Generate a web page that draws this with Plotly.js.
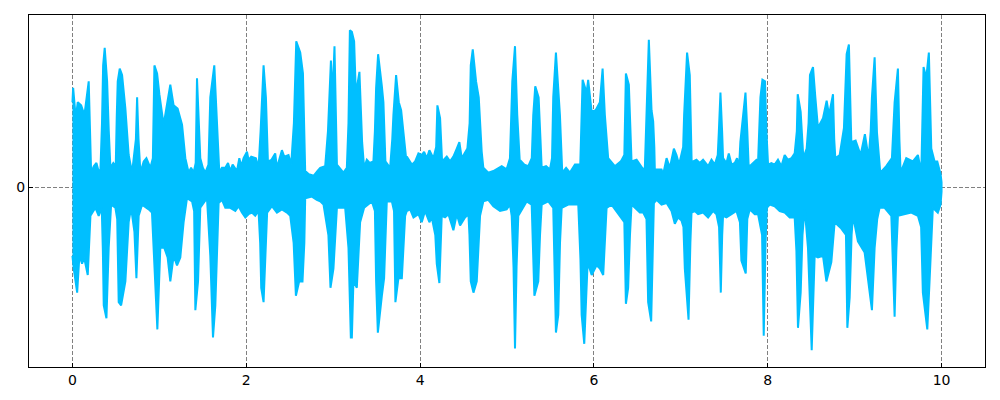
<!DOCTYPE html>
<html>
<head>
<meta charset="utf-8">
<script src="https://cdn.plot.ly/plotly-3.0.1.min.js"></script>
<style>html,body{margin:0;padding:0;background:#fff;}#chart{width:1000px;height:400px;}</style>
</head>
<body>
<div id="chart"></div>
<script>
// Upper envelope of the waveform: [time (s), amplitude]
const upperEnvelope = [
[0.000,0.53],[0.008,0.62],[0.038,0.43],[0.061,0.53],[0.100,0.51],[0.138,0.45],[0.187,0.66],[0.200,0.40],[0.215,0.09],[0.245,0.13],
[0.276,0.15],[0.300,0.10],[0.322,0.11],[0.340,0.40],[0.353,0.76],[0.371,0.87],[0.399,0.66],[0.418,0.35],[0.437,0.12],[0.470,0.15],
[0.498,0.13],[0.510,0.45],[0.521,0.66],[0.544,0.74],[0.571,0.70],[0.609,0.49],[0.647,0.20],[0.686,0.09],[0.730,0.30],[0.744,0.56],
[0.760,0.30],[0.782,0.09],[0.820,0.16],[0.851,0.18],[0.897,0.12],[0.925,0.18],[0.943,0.76],[0.974,0.71],[1.000,0.58],[1.049,0.39],
[1.126,0.64],[1.164,0.51],[1.210,0.49],[1.261,0.39],[1.299,0.18],[1.337,0.09],[1.365,0.12],[1.394,0.09],[1.418,0.15],[1.433,0.68],
[1.455,0.40],[1.471,0.18],[1.500,0.12],[1.529,0.09],[1.565,0.14],[1.586,0.56],[1.632,0.76],[1.663,0.34],[1.690,0.09],[1.720,0.12],
[1.759,0.12],[1.790,0.15],[1.816,0.10],[1.843,0.14],[1.893,0.10],[1.920,0.18],[1.943,0.13],[1.969,0.18],[2.008,0.22],[2.026,0.17],
[2.057,0.19],[2.111,0.18],[2.141,0.12],[2.165,0.35],[2.199,0.76],[2.226,0.56],[2.238,0.40],[2.249,0.16],[2.290,0.17],[2.333,0.21],
[2.353,0.12],[2.410,0.23],[2.437,0.19],[2.486,0.20],[2.517,0.14],[2.548,0.40],[2.575,0.91],[2.621,0.84],[2.652,0.71],[2.666,0.40],
[2.678,0.10],[2.720,0.08],[2.774,0.07],[2.820,0.10],[2.851,0.12],[2.908,0.13],[2.940,0.35],[2.974,0.79],[2.992,0.56],[3.015,0.88],
[3.030,0.40],[3.043,0.14],[3.118,0.09],[3.157,0.12],[3.176,0.40],[3.192,0.98],[3.215,0.97],[3.241,0.91],[3.261,0.58],[3.302,0.72],
[3.333,0.28],[3.356,0.12],[3.387,0.17],[3.420,0.15],[3.463,0.16],[3.480,0.35],[3.494,0.62],[3.517,0.83],[3.560,0.63],[3.578,0.53],
[3.601,0.16],[3.655,0.12],[3.680,0.30],[3.693,0.45],[3.724,0.70],[3.755,0.53],[3.782,0.48],[3.816,0.28],[3.839,0.18],[3.847,0.19],
[3.905,0.14],[3.943,0.16],[3.981,0.21],[4.019,0.20],[4.046,0.22],[4.077,0.18],[4.107,0.23],[4.153,0.18],[4.185,0.25],[4.199,0.51],
[4.230,0.43],[4.253,0.16],[4.307,0.19],[4.345,0.16],[4.383,0.19],[4.422,0.24],[4.452,0.28],[4.479,0.18],[4.517,0.22],[4.544,0.24],
[4.570,0.40],[4.583,0.76],[4.606,0.86],[4.644,0.66],[4.675,0.56],[4.695,0.30],[4.709,0.22],[4.728,0.12],[4.785,0.09],[4.843,0.10],
[4.900,0.12],[4.939,0.13],[4.996,0.11],[5.034,0.18],[5.061,0.66],[5.092,0.88],[5.118,0.45],[5.146,0.17],[5.200,0.14],[5.245,0.13],
[5.285,0.18],[5.302,0.45],[5.325,0.63],[5.364,0.56],[5.385,0.30],[5.399,0.12],[5.450,0.13],[5.494,0.11],[5.518,0.18],[5.532,0.56],
[5.563,0.84],[5.609,0.45],[5.636,0.09],[5.680,0.12],[5.724,0.09],[5.782,0.14],[5.843,0.14],[5.860,0.40],[5.870,0.67],[5.916,0.59],
[5.934,0.67],[5.974,0.47],[6.020,0.48],[6.069,0.53],[6.100,0.74],[6.126,0.45],[6.164,0.18],[6.241,0.13],[6.310,0.16],[6.350,0.20],
[6.368,0.71],[6.402,0.64],[6.420,0.35],[6.433,0.16],[6.491,0.17],[6.567,0.11],[6.586,0.12],[6.613,0.66],[6.632,0.92],[6.663,0.48],
[6.682,0.41],[6.695,0.25],[6.701,0.11],[6.778,0.11],[6.797,0.08],[6.836,0.18],[6.874,0.12],[6.920,0.24],[6.950,0.20],[6.980,0.14],
[7.008,0.21],[7.027,0.25],[7.038,0.45],[7.072,0.84],[7.103,0.70],[7.115,0.35],[7.126,0.12],[7.141,0.16],[7.180,0.17],[7.218,0.15],
[7.256,0.17],[7.314,0.13],[7.353,0.17],[7.391,0.14],[7.425,0.20],[7.437,0.34],[7.456,0.59],[7.475,0.35],[7.486,0.18],[7.525,0.15],
[7.552,0.21],[7.583,0.14],[7.621,0.15],[7.647,0.18],[7.670,0.12],[7.685,0.28],[7.744,0.59],[7.765,0.35],[7.780,0.14],[7.793,0.13],
[7.831,0.15],[7.870,0.17],[7.889,0.16],[7.905,0.40],[7.916,0.56],[7.939,0.67],[7.969,0.66],[7.985,0.35],[8.004,0.14],[8.042,0.15],
[8.080,0.14],[8.118,0.17],[8.157,0.13],[8.195,0.20],[8.233,0.17],[8.272,0.18],[8.310,0.21],[8.335,0.35],[8.345,0.58],[8.379,0.47],
[8.410,0.18],[8.448,0.24],[8.470,0.40],[8.486,0.70],[8.521,0.75],[8.548,0.56],[8.578,0.37],[8.636,0.43],[8.678,0.54],[8.705,0.45],
[8.751,0.58],[8.765,0.30],[8.778,0.18],[8.828,0.20],[8.877,0.37],[8.908,0.83],[8.934,0.89],[8.962,0.28],[9.011,0.29],[9.069,0.20],
[9.118,0.33],[9.161,0.18],[9.185,0.35],[9.199,0.56],[9.230,0.81],[9.257,0.34],[9.295,0.09],[9.364,0.13],[9.429,0.18],[9.460,0.53],
[9.498,0.74],[9.515,0.30],[9.529,0.09],[9.594,0.18],[9.670,0.16],[9.728,0.20],[9.767,0.09],[9.793,0.75],[9.824,0.68],[9.854,0.84],
[9.870,0.40],[9.882,0.24],[9.920,0.16],[9.951,0.16],[9.989,0.08],[10.000,0.03]
];

// Lower envelope of the waveform: [time (s), amplitude]
const lowerEnvelope = [
[0.000,-0.43],[0.015,-0.51],[0.054,-0.66],[0.080,-0.43],[0.111,-0.48],[0.134,-0.44],[0.176,-0.55],[0.195,-0.35],[0.207,-0.18],[0.264,-0.13],
[0.302,-0.18],[0.337,-0.13],[0.350,-0.40],[0.360,-0.74],[0.391,-0.82],[0.417,-0.38],[0.445,-0.11],[0.494,-0.13],[0.515,-0.20],[0.532,-0.72],
[0.560,-0.74],[0.609,-0.59],[0.647,-0.22],[0.675,-0.13],[0.713,-0.28],[0.736,-0.57],[0.762,-0.18],[0.801,-0.11],[0.877,-0.14],[0.915,-0.16],
[0.934,-0.38],[0.977,-0.89],[1.011,-0.38],[1.057,-0.38],[1.095,-0.44],[1.126,-0.59],[1.164,-0.43],[1.203,-0.49],[1.241,-0.44],[1.279,-0.22],
[1.318,-0.07],[1.376,-0.09],[1.400,-0.15],[1.414,-0.77],[1.445,-0.59],[1.471,-0.13],[1.548,-0.07],[1.586,-0.43],[1.617,-0.94],[1.644,-0.74],
[1.682,-0.10],[1.720,-0.08],[1.759,-0.13],[1.816,-0.13],[1.874,-0.15],[1.912,-0.12],[1.950,-0.16],[1.989,-0.19],[2.026,-0.17],[2.065,-0.16],
[2.103,-0.18],[2.141,-0.15],[2.160,-0.35],[2.172,-0.63],[2.199,-0.72],[2.225,-0.40],[2.240,-0.16],[2.295,-0.12],[2.353,-0.16],[2.410,-0.14],
[2.468,-0.16],[2.506,-0.18],[2.545,-0.35],[2.571,-0.68],[2.609,-0.59],[2.647,-0.59],[2.668,-0.35],[2.678,-0.07],[2.755,-0.06],[2.812,-0.08],
[2.851,-0.09],[2.889,-0.11],[2.945,-0.30],[2.969,-0.63],[3.003,-0.51],[3.043,-0.13],[3.138,-0.13],[3.176,-0.38],[3.203,-0.94],[3.215,-0.94],
[3.233,-0.59],[3.272,-0.63],[3.310,-0.22],[3.356,-0.13],[3.445,-0.09],[3.480,-0.15],[3.494,-0.59],[3.514,-0.91],[3.560,-0.68],[3.586,-0.57],
[3.617,-0.09],[3.675,-0.09],[3.700,-0.15],[3.716,-0.72],[3.751,-0.57],[3.790,-0.57],[3.828,-0.18],[3.847,-0.15],[3.885,-0.14],[3.924,-0.19],
[3.981,-0.17],[4.019,-0.22],[4.057,-0.15],[4.107,-0.22],[4.134,-0.19],[4.175,-0.30],[4.192,-0.48],[4.222,-0.60],[4.249,-0.18],[4.287,-0.19],
[4.326,-0.17],[4.383,-0.27],[4.422,-0.17],[4.460,-0.24],[4.517,-0.19],[4.556,-0.17],[4.568,-0.30],[4.583,-0.59],[4.614,-0.66],[4.652,-0.59],
[4.690,-0.18],[4.728,-0.09],[4.785,-0.08],[4.843,-0.12],[4.920,-0.15],[4.996,-0.14],[5.034,-0.11],[5.054,-0.18],[5.075,-0.50],[5.092,-1.01],
[5.110,-0.50],[5.130,-0.18],[5.226,-0.09],[5.284,-0.11],[5.300,-0.40],[5.315,-0.68],[5.360,-0.59],[5.380,-0.30],[5.399,-0.11],[5.475,-0.09],
[5.532,-0.13],[5.548,-0.50],[5.563,-0.91],[5.590,-0.80],[5.610,-0.35],[5.629,-0.13],[5.705,-0.11],[5.820,-0.11],[5.845,-0.45],[5.859,-0.80],
[5.889,-0.98],[5.928,-0.47],[5.974,-0.55],[6.031,-0.49],[6.069,-0.51],[6.107,-0.55],[6.130,-0.30],[6.146,-0.13],[6.203,-0.11],[6.299,-0.18],
[6.350,-0.22],[6.368,-0.73],[6.394,-0.63],[6.415,-0.30],[6.433,-0.11],[6.529,-0.16],[6.567,-0.16],[6.605,-0.20],[6.624,-0.72],[6.659,-0.84],
[6.675,-0.40],[6.690,-0.10],[6.720,-0.08],[6.778,-0.11],[6.836,-0.10],[6.893,-0.15],[6.931,-0.23],[6.969,-0.19],[7.008,-0.21],[7.030,-0.25],
[7.046,-0.51],[7.089,-0.83],[7.110,-0.35],[7.123,-0.16],[7.161,-0.15],[7.199,-0.17],[7.256,-0.16],[7.314,-0.19],[7.372,-0.15],[7.410,-0.17],
[7.440,-0.25],[7.460,-0.66],[7.476,-0.30],[7.486,-0.18],[7.525,-0.19],[7.583,-0.17],[7.640,-0.15],[7.680,-0.22],[7.697,-0.46],[7.747,-0.54],
[7.765,-0.20],[7.793,-0.14],[7.851,-0.17],[7.889,-0.17],[7.935,-0.30],[7.954,-0.93],[7.975,-0.35],[7.990,-0.13],[8.023,-0.11],[8.080,-0.12],
[8.138,-0.15],[8.195,-0.16],[8.253,-0.19],[8.310,-0.19],[8.330,-0.40],[8.348,-0.88],[8.379,-0.66],[8.400,-0.30],[8.425,-0.13],[8.463,-0.38],
[8.506,-1.02],[8.540,-0.43],[8.578,-0.44],[8.636,-0.43],[8.675,-0.59],[8.732,-0.47],[8.770,-0.22],[8.847,-0.26],[8.900,-0.30],[8.916,-0.88],
[8.943,-0.69],[8.965,-0.30],[8.981,-0.18],[9.038,-0.34],[9.115,-0.41],[9.199,-0.77],[9.230,-0.38],[9.260,-0.20],[9.287,-0.13],[9.345,-0.13],
[9.422,-0.18],[9.440,-0.40],[9.460,-0.81],[9.480,-0.40],[9.498,-0.18],[9.652,-0.16],[9.728,-0.18],[9.765,-0.25],[9.785,-0.66],[9.836,-0.89],
[9.862,-0.59],[9.900,-0.13],[9.957,-0.16],[9.989,-0.11],[10.000,-0.03]
];

const xTickVals = [0, 2, 4, 6, 8, 10];
const xTickText = ['0', '2', '4', '6', '8', '10'];
const yTickVals = [0];
const yTickText = ['0'];

const upT = upperEnvelope.map(p => p[0]);
const upA = upperEnvelope.map(p => p[1]);
const loT = lowerEnvelope.map(p => p[0]).reverse();
const loA = lowerEnvelope.map(p => p[1]).reverse();

const trace = {
  x: upT.concat(loT),
  y: upA.concat(loA),
  type: 'scatter',
  mode: 'lines',
  fill: 'toself',
  fillcolor: '#00BFFF',
  line: {color: '#00BFFF', width: 2, shape: 'linear'},
  hoverinfo: 'skip',
  showlegend: false
};

const axisCommon = {
  showline: true,
  mirror: true,
  linecolor: '#000000',
  linewidth: 1,
  ticks: 'inside',
  ticklen: 4,
  tickwidth: 1,
  tickcolor: '#000000',
  showgrid: true,
  gridcolor: '#808080',
  gridwidth: 1,
  griddash: '4px,2px',
  zeroline: false,
  tickfont: {family: 'DejaVu Sans', size: 14, color: '#000000'}
};

const layout = {
  width: 1000,
  height: 400,
  margin: {l: 29, r: 15, t: 15, b: 33, pad: 0},
  paper_bgcolor: '#ffffff',
  plot_bgcolor: '#ffffff',
  xaxis: Object.assign({}, axisCommon, {
    range: [-0.5, 10.5],
    tickmode: 'array',
    tickvals: xTickVals,
    ticktext: xTickText
  }),
  yaxis: Object.assign({}, axisCommon, {
    range: [-1.125, 1.075],
    tickmode: 'array',
    tickvals: yTickVals,
    ticktext: yTickText
  }),
  font: {family: 'DejaVu Sans', size: 14, color: '#000000'}
};

Plotly.newPlot('chart', [trace], layout, {displayModeBar: false, staticPlot: true});
</script>
</body>
</html>
